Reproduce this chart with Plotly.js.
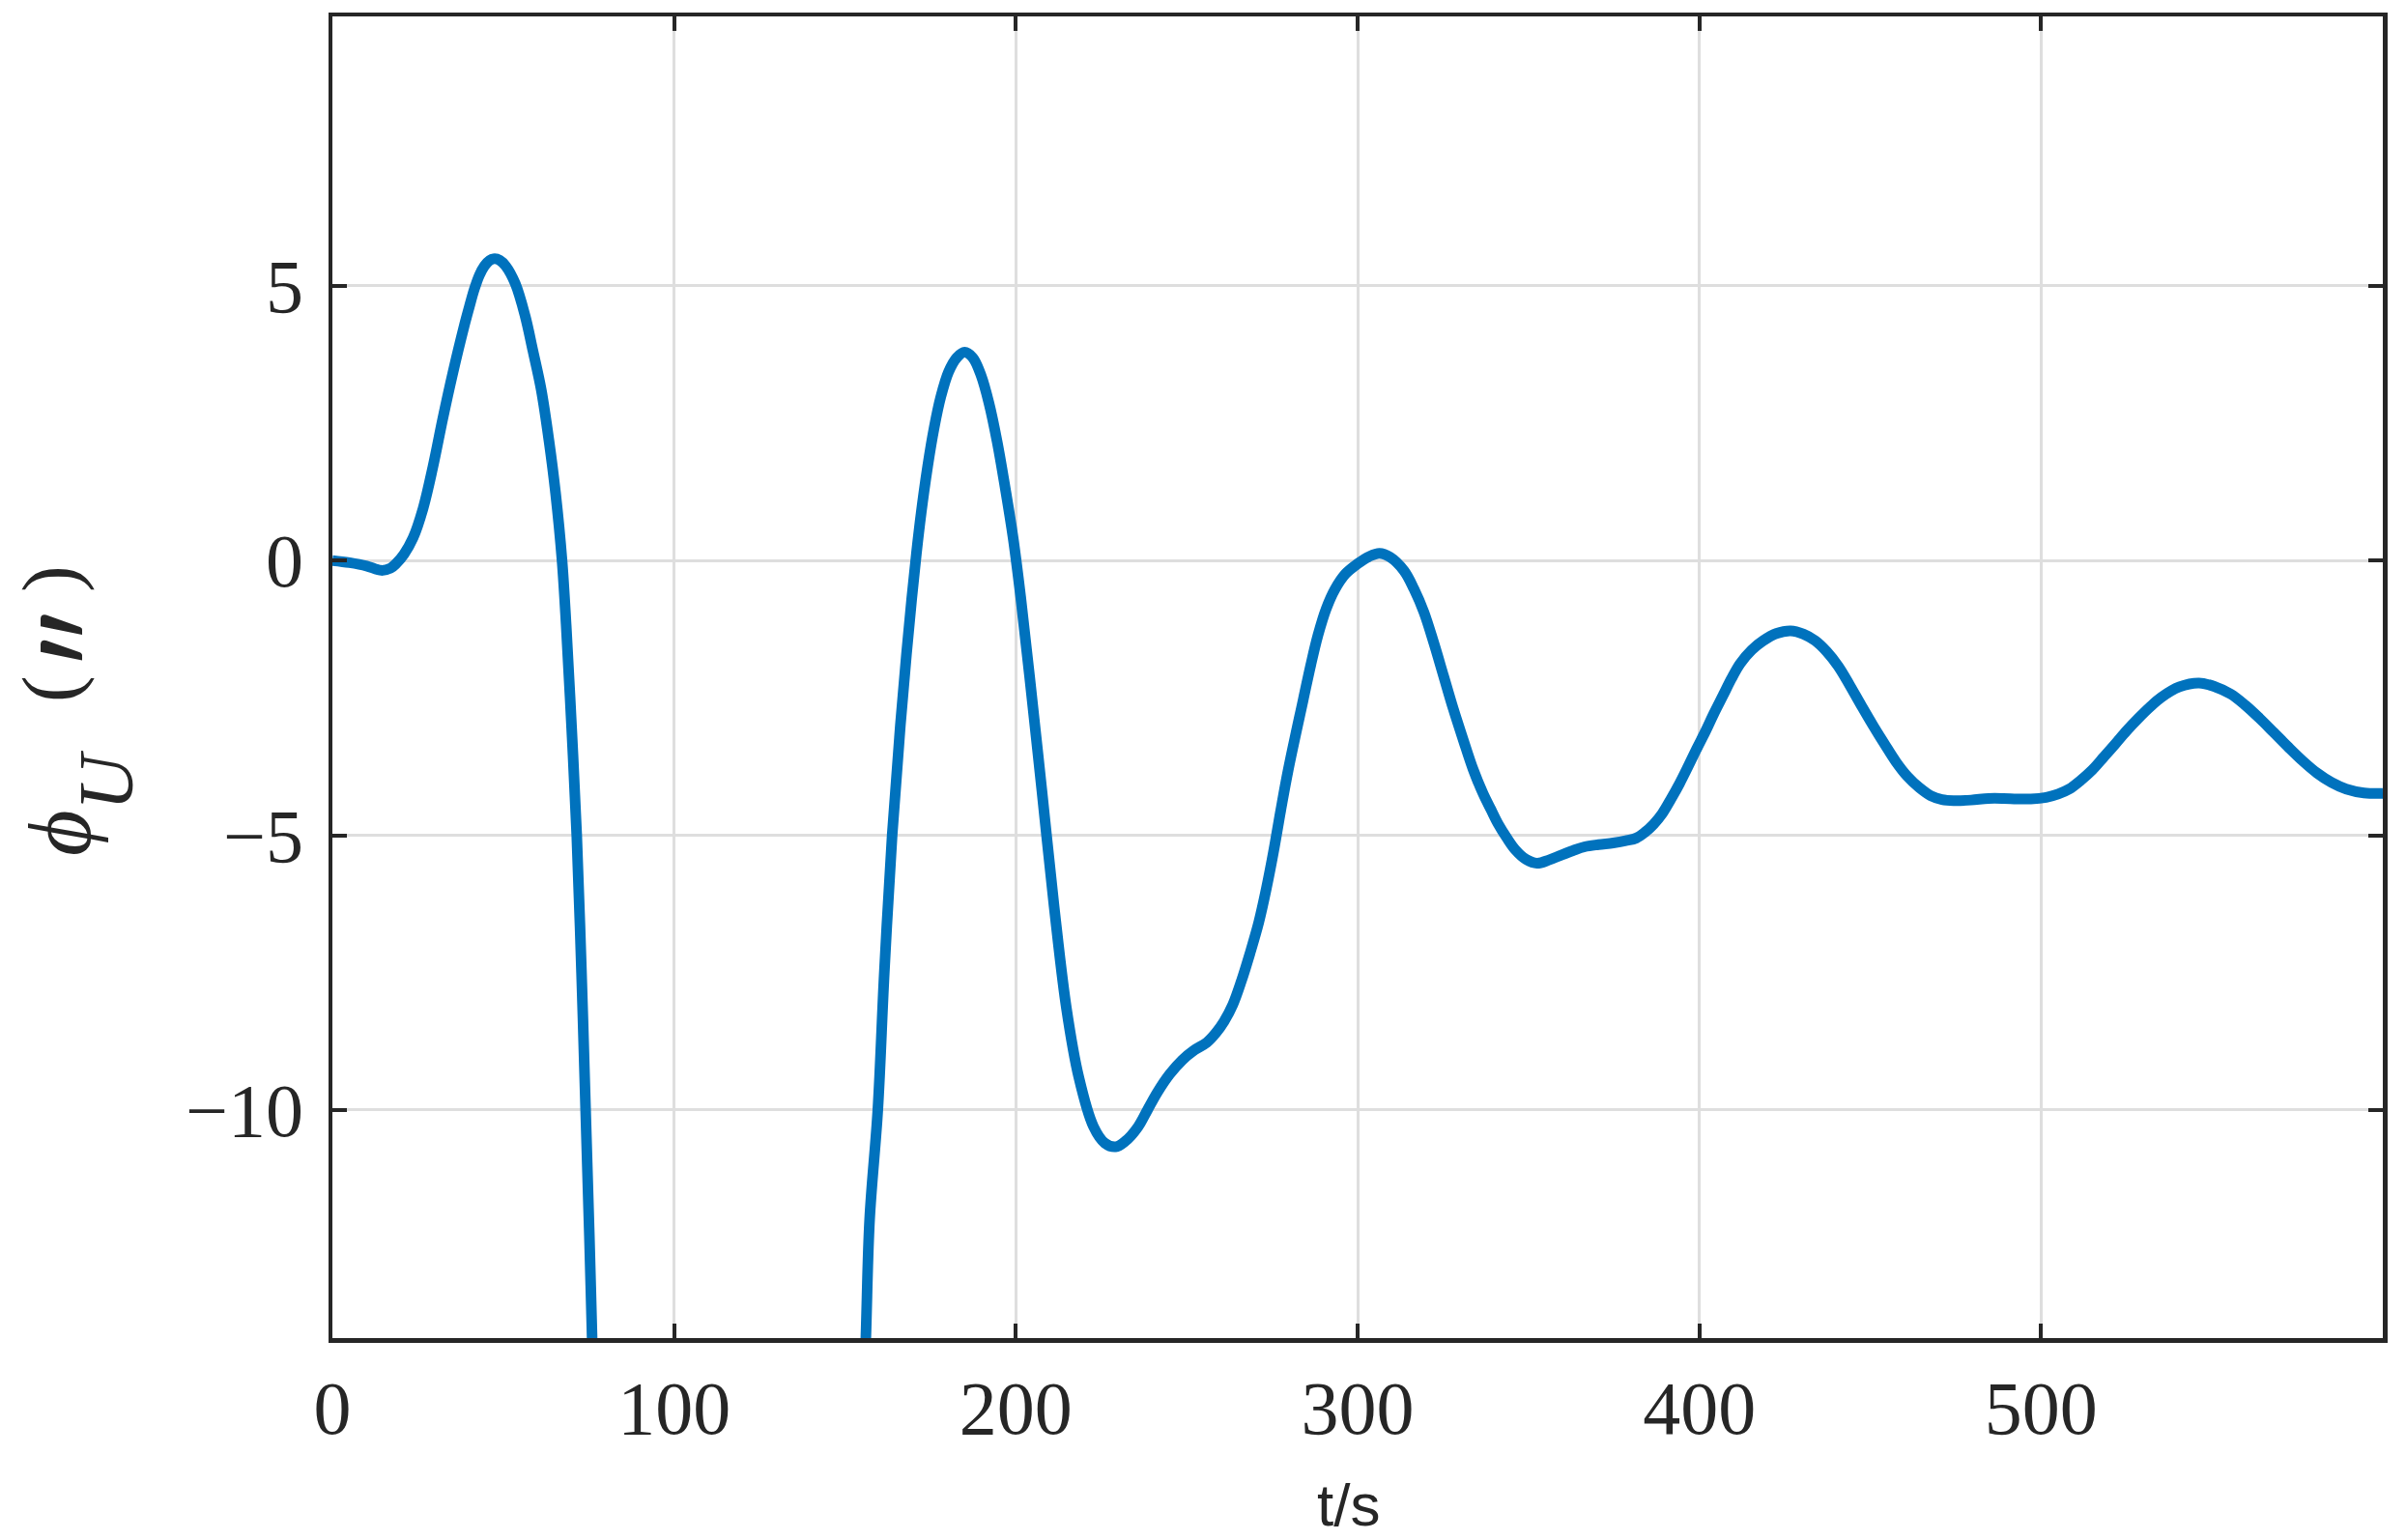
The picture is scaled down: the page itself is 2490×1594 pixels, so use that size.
<!DOCTYPE html>
<html>
<head>
<meta charset="utf-8">
<script src="https://cdn.plot.ly/plotly-3.0.1.min.js"></script>
<style>html,body{margin:0;padding:0;background:#fff;}#chart{width:2490px;height:1594px;}</style>
</head>
<body>
<div id="chart"></div>
<script>
// time (s)
const tValues = [0,5,10,14.3,17,18.6,21,23.6,26.5,29.4,32.3,35.2,38.5,40,41.5,43,44.5,46,47.5,49,50.7,53.5,56.4,58.7,61.1,63.4,65.3,67.2,68.4,70,71.5,72.9,74.1,75.2,76,77,
  154.8,156.1,157.2,159.6,161.5,163.8,166.2,168,169.5,170.9,172.3,174.2,176.1,178,180.3,182.7,185,187.4,189.8,192.1,194.5,196.8,199.2,201.4,204,207.6,211.2,214.8,218.4,222.7,226,229.2,232,235.7,238.5,241.5,245,248.7,252,255.9,258.5,260.9,263.5,266,268.5,271.1,273.3,275.4,277.5,279.7,284.1,286.3,288.4,290.8,293.4,296.5,300,303.3,306.4,309.5,313.6,316.5,319.4,322.3,325.2,328,331,333.8,336.7,339,341.1,343.9,346.1,349.3,352.5,356,359.6,363,366.4,370.5,374.8,378.5,381.6,384,386.6,389.2,391.7,394.2,396.7,399.2,401.8,404.3,406.9,409.4,411.9,415.3,418.7,422.5,426.7,430.5,433.9,437.3,440.7,444,447.4,450.8,454.2,457.5,460.9,464.3,467.7,471,474.4,479.5,484.6,489,493,497,501.5,505,508.2,511.6,515,518.3,521.7,525,528.5,531.8,535.2,540.5,546.2,551,555.5,559.7,563.9,568.1,572.4,576.6,580.8,585,589.3,594.5,600];
// phi_U (arc seconds)
const phiValues = [0,-0.04,-0.1,-0.18,-0.14,-0.06,0.12,0.41,0.94,1.70,2.58,3.40,4.25,4.6,4.93,5.19,5.36,5.46,5.49,5.46,5.36,5.04,4.45,3.81,3.11,2.17,1.23,0,-1.17,-3.04,-5.0,-7.5,-10.0,-12.3,-14.15,-16.5,
  -16.5,-14.15,-12.0,-10.0,-7.5,-5.0,-3.0,-1.7,-0.71,0.13,0.87,1.72,2.42,2.97,3.43,3.69,3.79,3.69,3.37,2.87,2.17,1.35,0.41,-0.66,-2.1,-4.18,-6.3,-8.15,-9.4,-10.3,-10.6,-10.67,-10.57,-10.31,-10.0,-9.67,-9.35,-9.09,-8.92,-8.77,-8.6,-8.39,-8.08,-7.65,-7.15,-6.58,-5.97,-5.3,-4.55,-3.81,-2.53,-1.9,-1.36,-0.88,-0.52,-0.24,-0.06,0.07,0.13,0.06,-0.19,-0.52,-0.94,-1.5,-2.11,-2.7,-3.28,-3.8,-4.24,-4.53,-4.79,-5.07,-5.26,-5.44,-5.51,-5.45,-5.36,-5.28,-5.21,-5.17,-5.14,-5.1,-5.05,-4.95,-4.80,-4.6,-4.34,-4.06,-3.75,-3.43,-3.11,-2.78,-2.46,-2.15,-1.88,-1.63,-1.46,-1.33,-1.28,-1.34,-1.46,-1.66,-1.93,-2.27,-2.64,-3.0,-3.34,-3.66,-3.93,-4.13,-4.28,-4.35,-4.37,-4.36,-4.33,-4.33,-4.34,-4.34,-4.31,-4.25,-4.16,-4.0,-3.81,-3.58,-3.34,-3.1,-2.87,-2.67,-2.49,-2.3,-2.23,-2.3,-2.43,-2.63,-2.87,-3.13,-3.40,-3.65,-3.87,-4.04,-4.16,-4.23,-4.24];
const xTickVals = [0,100,200,300,400,500];
const xTickText = ['0','100','200','300','400','500'];
const yTickVals = [-10,-5,0,5];
const yTickText = ['\u221210','\u22125','0','5'];

const axisColor = '#262626';
const serif = 'Liberation Serif, DejaVu Serif, serif';

const trace = {
  x: tValues, y: phiValues, type: 'scatter', mode: 'lines',
  line: {color: '#0072BD', width: 11, shape: 'spline', smoothing: 1},
  hoverinfo: 'skip'
};

const common = {
  showline: true, linecolor: axisColor, linewidth: 4.5, mirror: 'ticks',
  ticks: 'inside', ticklen: 15, tickwidth: 4, tickcolor: axisColor,
  showgrid: true, gridcolor: '#dedede', gridwidth: 3, zeroline: false,
  tickfont: {family: serif, size: 78, color: axisColor}
};

// helper: convert pixel position to paper coordinates
const L = 344, R = 2466, T = 17, B = 1385;
const px = v => (v - L) / (R - L);
const py = v => (B - v) / (B - T);

function label(text, x, y, size, family) {
  return {text: text, xref: 'paper', yref: 'paper', x: px(x), y: py(y), xanchor: 'center', yanchor: 'middle',
          showarrow: false, textangle: -90, font: {family: family || serif, size: size, color: axisColor}};
}

const layout = {
  width: 2490, height: 1594,
  margin: {l: L, r: 2490 - R, t: T, b: 1594 - B},
  paper_bgcolor: '#ffffff', plot_bgcolor: '#ffffff',
  showlegend: false,
  xaxis: Object.assign({}, common, {range: [0, 600], tickmode: 'array', tickvals: xTickVals, ticktext: xTickText, ticklabelstandoff: 1}),
  yaxis: Object.assign({}, common, {range: [-14.15, 9.9], tickmode: 'array', tickvals: yTickVals, ticktext: yTickText, ticklabelstandoff: 10}),
  annotations: [
    {text: 't/s', xref: 'paper', yref: 'paper', x: px(1395), y: py(1557), xanchor: 'center', yanchor: 'middle', showarrow: false,
     font: {family: 'Liberation Sans, Arial, sans-serif', size: 62, color: axisColor}},
    label('<i>\u03D5</i>', 62, 862, 92),
    label('<i>U</i>', 110, 808, 80),
    label('(', 52, 713, 83),
    label(')', 52, 599, 83),
    label('\u2033', 100, 662, 135, 'Lato, Noto Sans, sans-serif')
  ]
};

Plotly.newPlot('chart', [trace], layout, {staticPlot: true, displayModeBar: false});
</script>
</body>
</html>
